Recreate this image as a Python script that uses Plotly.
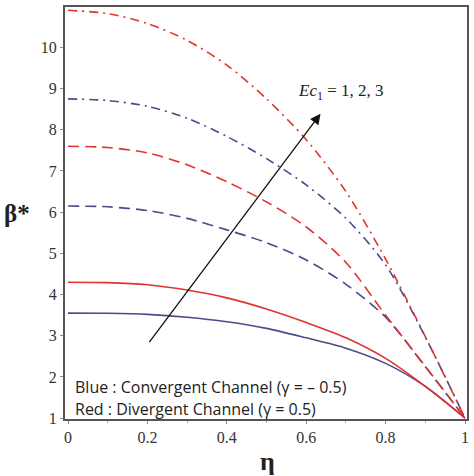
import plotly.graph_objects as go

eta = [0, 0.1, 0.2, 0.3, 0.4, 0.5, 0.6, 0.7, 0.8, 0.9, 1.0]

blue_solid = [3.55, 3.545, 3.52, 3.45, 3.34, 3.18, 2.95, 2.70, 2.33, 1.77, 1.0]
red_solid = [4.30, 4.29, 4.24, 4.11, 3.92, 3.65, 3.32, 2.95, 2.45, 1.77, 1.0]
blue_dash = [6.15, 6.13, 6.04, 5.85, 5.57, 5.26, 4.84, 4.25, 3.45, 2.25, 1.0]
red_dash = [7.60, 7.57, 7.44, 7.15, 6.74, 6.25, 5.64, 4.78, 3.50, 2.26, 1.0]
blue_dashdot = [8.75, 8.71, 8.57, 8.28, 7.84, 7.30, 6.66, 5.85, 4.72, 2.97, 1.0]
red_dashdot = [10.90, 10.82, 10.58, 10.17, 9.57, 8.75, 7.76, 6.50, 4.86, 2.98, 1.0]

x_ticks = [0, 0.2, 0.4, 0.6, 0.8, 1]
x_tick_text = ["0", "0.2", "0.4", "0.6", "0.8", "1"]
y_ticks = [1, 2, 3, 4, 5, 6, 7, 8, 9, 10]
y_tick_text = [str(v) for v in y_ticks]

BLUE = "#4b4b8c"
RED = "#e0332f"
DASH = "11px,6px"
DASHDOT = "9px,5px,2px,5px"

fig = go.Figure()
series = [
    (blue_solid, BLUE, "solid"),
    (red_solid, RED, "solid"),
    (blue_dash, BLUE, DASH),
    (red_dash, RED, DASH),
    (blue_dashdot, BLUE, DASHDOT),
    (red_dashdot, RED, DASHDOT),
]
for vals, col, dash in series:
    fig.add_trace(go.Scatter(x=eta, y=vals, mode="lines",
                             line=dict(color=col, width=1.6, dash=dash, shape="spline", smoothing=0.8),
                             showlegend=False, hoverinfo="skip"))

serif = "Liberation Serif"
sans = "Open Sans"
fig.update_layout(
    width=474, height=476,
    margin=dict(l=65, r=7, t=5, b=57),
    plot_bgcolor="white", paper_bgcolor="white",
    xaxis=dict(range=[-0.0076, 1.005], tickvals=x_ticks, ticktext=x_tick_text,
               showgrid=False, zeroline=False, showline=True, mirror=True,
               linecolor="#555", linewidth=2, ticks="outside", ticklen=3, tickcolor="#888",
               minor=dict(dtick=0.1, ticks="outside", ticklen=2, tickcolor="#aaa"),
               tickfont=dict(family=serif, size=16, color="#333")),
    yaxis=dict(range=[0.98, 10.98], tickvals=y_ticks, ticktext=y_tick_text,
               showgrid=False, zeroline=False, showline=True, mirror=True,
               linecolor="#555", linewidth=2, ticks="outside", ticklen=3, tickcolor="#888",
               tickfont=dict(family=serif, size=16, color="#333")),
)

# axis titles (pixel positions converted to paper coords)
fig.add_annotation(x=(17 - 65) / 402, y=(476 - 57 - 212) / 414, xref="paper", yref="paper",
                   text="<b>β*</b>", showarrow=False, xanchor="center", yanchor="middle",
                   font=dict(family=serif, size=25, color="#222"))
fig.add_annotation(x=(267 - 65) / 402, y=-(462 - 419) / 414, xref="paper", yref="paper",
                   text="<b>η</b>", showarrow=False, xanchor="center", yanchor="middle",
                   font=dict(family=serif, size=26, color="#222"))

# arrow
fig.add_annotation(x=0.636, y=8.39, ax=0.202, ay=2.81, xref="x", yref="y", axref="x", ayref="y",
                   text="", showarrow=True, arrowhead=2, arrowsize=1.6, arrowwidth=1.3, arrowcolor="#111")
fig.add_annotation(x=(295 - 68) / 396, y=1 + (418 - 90) / 41.4, xref="x", yref="y",
                   text="<i>Ec</i><sub>1</sub> = 1, 2, 3", showarrow=False, xanchor="left", yanchor="middle",
                   font=dict(family=serif, size=17, color="#222"))

fig.add_annotation(x=(73 - 68) / 396, y=1 + (418 - 387) / 41.4, xref="x", yref="y",
                   text="Blue : Convergent Channel (γ = – 0.5)", showarrow=False,
                   xanchor="left", yanchor="middle", font=dict(family=sans, size=16, color="#222"))
fig.add_annotation(x=(73 - 68) / 396, y=1 + (418 - 409) / 41.4, xref="x", yref="y",
                   text="Red : Divergent Channel (γ = 0.5)", showarrow=False,
                   xanchor="left", yanchor="middle", font=dict(family=sans, size=16, color="#222"))

fig.write_html("out.html")
